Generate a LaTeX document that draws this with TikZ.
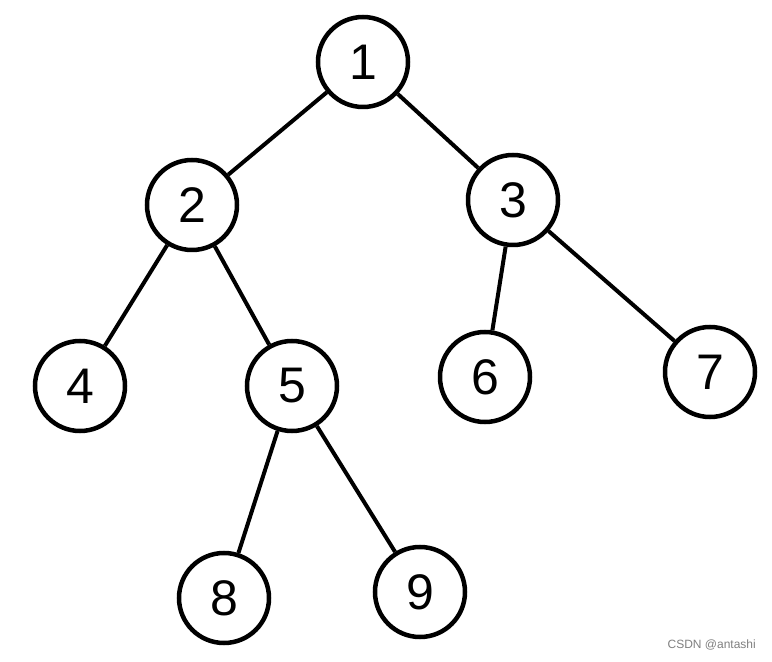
\documentclass[tikz,border=0pt]{standalone}
\usepackage{fontspec}
\setmainfont{Liberation Sans}
\begin{document}
\begin{tikzpicture}[x=1pt,y=1pt,
  treenode/.style={circle,draw=black,line width=4.5pt,minimum size=90pt,inner sep=0pt,
    font=\fontsize{50}{50}\selectfont},
  edge/.style={line width=4pt,black}]
\useasboundingbox (0,0) rectangle (772,662);
\fill[white] (0,0) rectangle (772,662);
\node[treenode] (n1) at (363,600) {1};
\node[treenode] (n2) at (192,457) {2};
\node[treenode] (n3) at (513,462) {3};
\node[treenode] (n4) at (80,276) {4};
\node[treenode] (n5) at (292,276) {5};
\node[treenode] (n6) at (485,285) {6};
\node[treenode] (n7) at (710,290) {7};
\node[treenode] (n8) at (224,64) {8};
\node[treenode] (n9) at (420,70) {9};
\draw[edge] (n1) -- (n2);
\draw[edge] (n1) -- (n3);
\draw[edge] (n2) -- (n4);
\draw[edge] (n2) -- (n5);
\draw[edge] (n3) -- (n6);
\draw[edge] (n3) -- (n7);
\draw[edge] (n5) -- (n8);
\draw[edge] (n5) -- (n9);
\node[anchor=east,text=black!50,font=\fontsize{12}{12}\selectfont,inner sep=0pt] (wm) at (756,17) {CSDN @antashi};
\end{tikzpicture}
\end{document}
